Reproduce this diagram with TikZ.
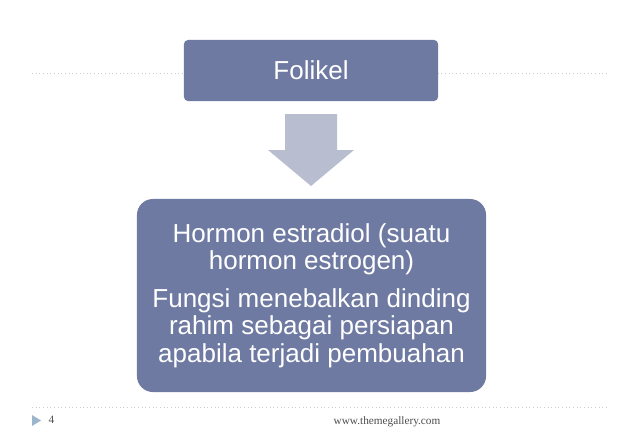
\documentclass[tikz,border=0pt]{standalone}
\usepackage{fontspec}
\setmainfont{Liberation Sans}
\newfontfamily\footfont{Liberation Serif}
\definecolor{boxblue}{HTML}{6F7AA2}
\definecolor{arrowgray}{HTML}{B9BDD0}
\definecolor{markblue}{HTML}{9DB5CB}
\begin{document}
\begin{tikzpicture}[x=0.025cm,y=-0.025cm,
    box/.style={rectangle,fill=boxblue,text=white,align=center,inner sep=0pt},
    rule/.style={dotted,gray!40,line width=0.6pt},
    foot/.style={font=\footfont\fontsize{8}{10}\selectfont,text=black!70,anchor=base,inner sep=0pt}]
        \useasboundingbox (0,0) rectangle (638,442);
        % guide lines
        \draw[rule] (32,73) -- (607,73);
        \draw[rule] (32,407) -- (607,407);
        % boxes
        \node[box,rounded corners=0.1cm,minimum width=6.35cm,minimum height=1.525cm,font=\fontsize{18.5}{22}\selectfont] (fol) at (311,70.5) {Folikel};
        \node[box,rounded corners=0.4cm,minimum width=8.725cm,minimum height=4.825cm,font=\fontsize{18.5}{19.6}\selectfont] (hor) at (311.5,295.5) {Hormon estradiol (suatu\\hormon estrogen)\\[7pt]Fungsi menebalkan dinding\\rahim sebagai persiapan\\apabila terjadi pembuahan};
        % block arrow
        \fill[arrowgray] (285,114) -- (337,114) -- (337,150) -- (354,150) -- (311,186) -- (268,150) -- (285,150) -- cycle;
        % footer
        \fill[markblue] (32,415) -- (41,420.5) -- (32,426) -- cycle;
        \node[foot] (num) at (51.5,423) {4};
        \node[foot] (url) at (387,424) {www.themegallery.com};
    \end{tikzpicture}
\end{document}
